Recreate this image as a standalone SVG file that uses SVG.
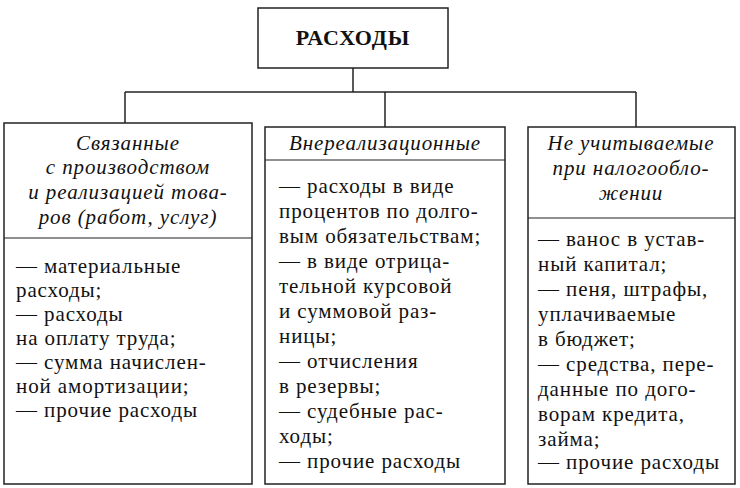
<svg xmlns="http://www.w3.org/2000/svg" width="740" height="488" viewBox="0 0 740 488">
<style>
rect{fill:#fff;stroke:#222;stroke-width:1.5}
.c line{stroke:#222;stroke-width:1.5}
text{font-family:"Liberation Serif","Times New Roman",serif;font-size:21px;letter-spacing:0.9px;fill:#111}
.h{font-style:italic;text-anchor:middle}
.t{font-weight:bold;text-anchor:middle;font-size:22px}
.d{stroke:#222;stroke-width:1.2}
</style>
<rect width="740" height="488" style="stroke:none"/>
<g class="c">
<line x1="353" y1="68" x2="353" y2="92"/>
<line x1="125" y1="92" x2="636" y2="92"/>
<line x1="125" y1="92" x2="125" y2="123"/>
<line x1="385" y1="92" x2="385" y2="127"/>
<line x1="636" y1="92" x2="636" y2="127"/>
</g>
<g id="root"><rect x="258" y="8" width="190" height="60"/><text class="t" x="353" y="45">РАСХОДЫ</text></g>
<g id="left"><rect x="4" y="123" width="248" height="361"/><line class="d" x1="4" y1="238" x2="252" y2="238"/>
<text class="h" x="128" y="150">Связанные</text><text class="h" x="128" y="174">с производством</text><text class="h" x="128" y="199">и реализацией това-</text><text class="h" x="128" y="224">ров (работ, услуг)</text>
<text x="16" y="273">— материальные</text><text x="16" y="297">расходы;</text><text x="16" y="321">— расходы</text><text x="16" y="345">на оплату труда;</text><text x="16" y="369">— сумма начислен-</text><text x="16" y="393">ной амортизации;</text><text x="16" y="417">— прочие расходы</text></g>
<g id="mid"><rect x="265" y="127" width="240" height="357"/><line class="d" x1="265" y1="160" x2="505" y2="160"/>
<text class="h" x="385" y="150">Внереализационные</text>
<text x="279" y="193">— расходы в виде</text><text x="279" y="218">процентов по долго-</text><text x="279" y="243">вым обязательствам;</text><text x="279" y="268">— в виде отрица-</text><text x="279" y="293">тельной курсовой</text><text x="279" y="318">и суммовой раз-</text><text x="279" y="343">ницы;</text><text x="279" y="368">— отчисления</text><text x="279" y="393">в резервы;</text><text x="279" y="418">— судебные рас-</text><text x="279" y="443">ходы;</text><text x="279" y="468">— прочие расходы</text></g>
<g id="right"><rect x="528" y="127" width="207" height="357"/><line class="d" x1="528" y1="218" x2="735" y2="218"/>
<text class="h" x="631" y="150">Не учитываемые</text><text class="h" x="631" y="175">при налогообло-</text><text class="h" x="631" y="200">жении</text>
<text x="538" y="246">— ванос в устав-</text><text x="538" y="271">ный капитал;</text><text x="538" y="296">— пеня, штрафы,</text><text x="538" y="321">уплачиваемые</text><text x="538" y="346">в бюджет;</text><text x="538" y="371">— средства, пере-</text><text x="538" y="396">данные по дого-</text><text x="538" y="421">ворам кредита,</text><text x="538" y="446">займа;</text><text x="538" y="469">— прочие расходы</text></g>
</svg>
